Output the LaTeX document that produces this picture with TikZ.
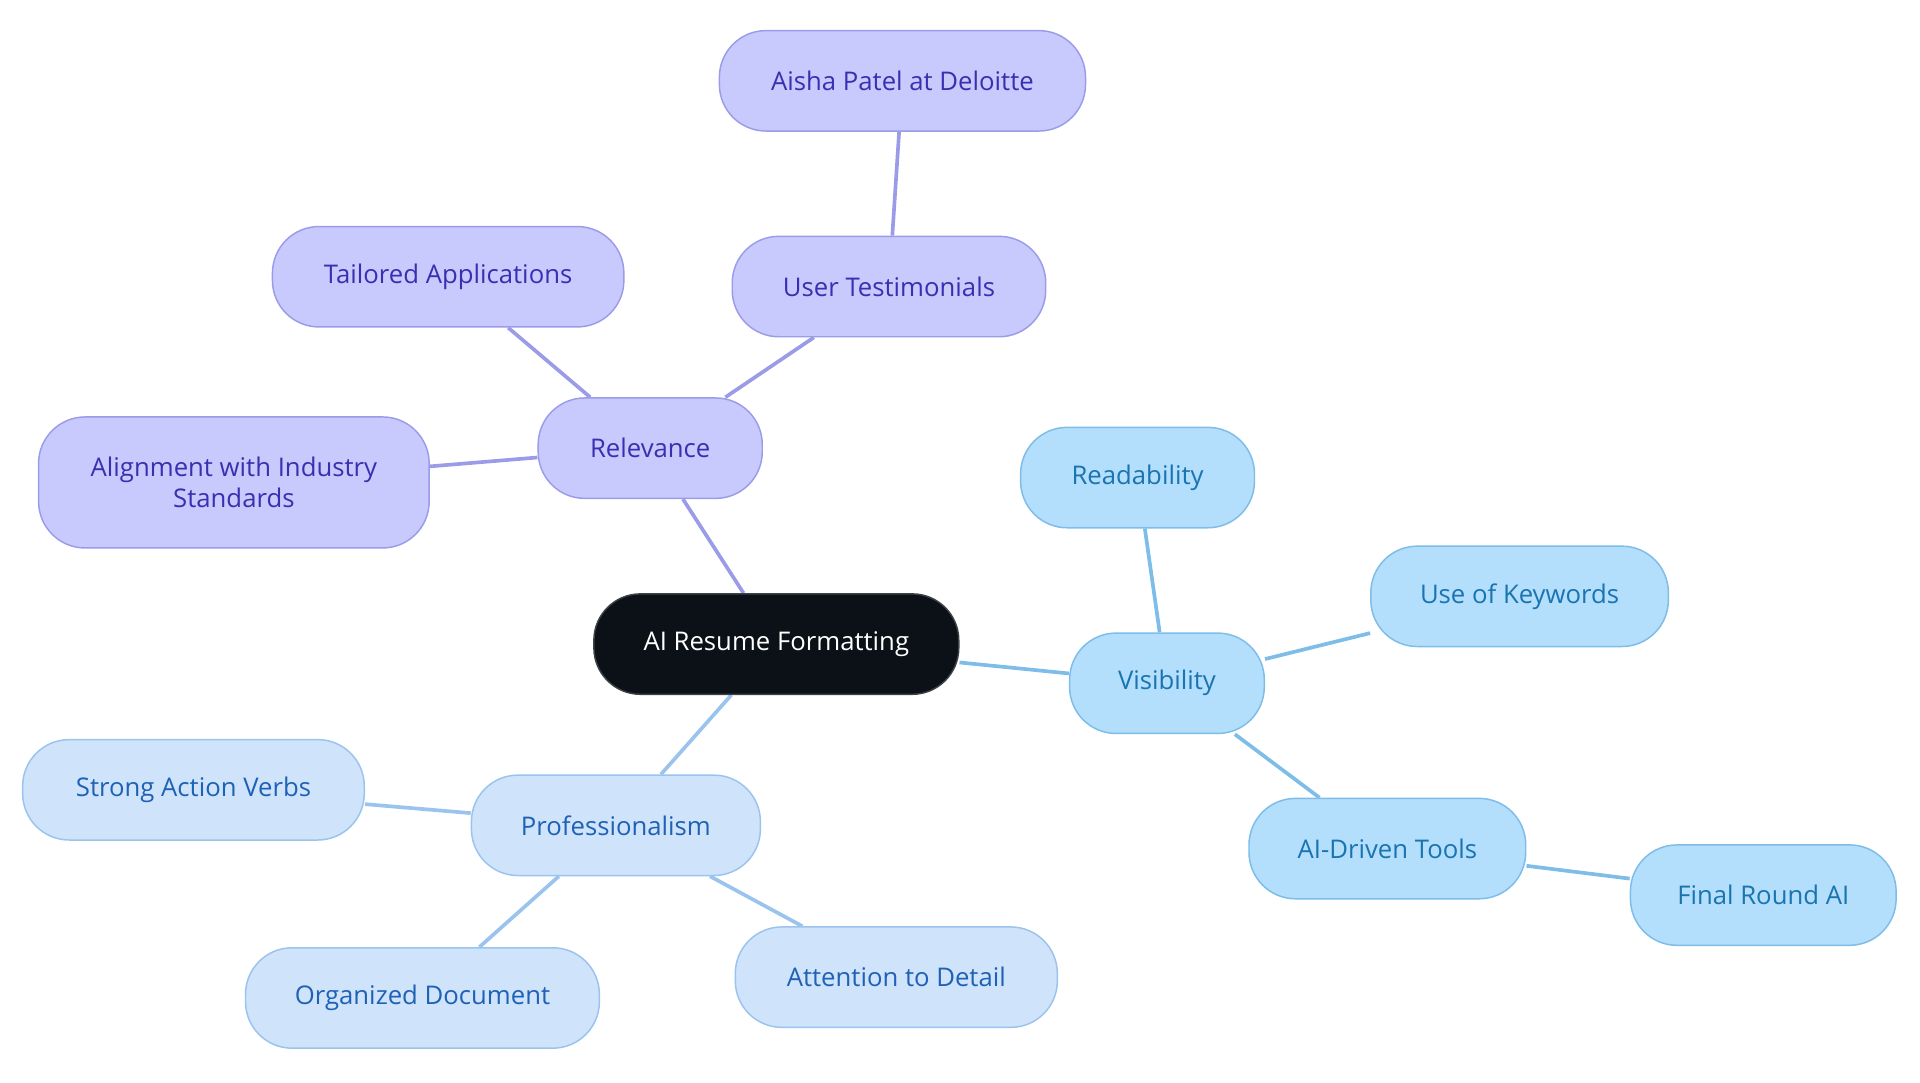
\documentclass[tikz,border=0pt]{standalone}
\usepackage{fontspec}
\setmainfont{Open Sans}
\usetikzlibrary{backgrounds}
\definecolor{pf}{HTML}{C8C9FD}\definecolor{pd}{HTML}{9B9CE8}\definecolor{pt}{HTML}{3A2FB0}
\definecolor{vf}{HTML}{B3DEFC}\definecolor{vd}{HTML}{7DBDE8}\definecolor{vt}{HTML}{1A74B0}
\definecolor{rf}{HTML}{CFE3FB}\definecolor{rd}{HTML}{9AC3EE}\definecolor{rt}{HTML}{1F62B5}
\definecolor{cf}{HTML}{0B1117}
\begin{document}
\begin{tikzpicture}[x=1pt,y=-1pt,
  box/.style={rectangle,rounded corners=38pt,minimum height=82pt,line width=1.2pt,align=center,font=\fontsize{21}{25}\selectfont,inner sep=0pt},
  pbox/.style={box,fill=pf,draw=pd,text=pt},
  vbox/.style={box,fill=vf,draw=vd,text=vt},
  rbox/.style={box,fill=rf,draw=rd,text=rt},
  pe/.style={draw=pd,line width=3pt},
  ve/.style={draw=vd,line width=3pt},
  re/.style={draw=rd,line width=3pt}]
\useasboundingbox (0,0) rectangle (1568,884);
\node[box,fill=cf,draw=cf!80!white,text=white,minimum width=298pt] (c) at (634,526) {AI Resume Formatting};
\node[pbox,minimum width=183pt] (rel) at (531,366) {Relevance};
\node[pbox,minimum width=256pt] (ut) at (726,234) {User Testimonials};
\node[pbox,minimum width=299pt] (ap) at (737,66) {Aisha Patel at Deloitte};
\node[pbox,minimum width=287pt] (ta) at (366,226) {Tailored Applications};
\node[pbox,minimum width=319pt,minimum height=107pt] (al) at (191,394) {Alignment with Industry\\Standards};
\node[vbox,minimum width=159pt] (vis) at (953,558) {Visibility};
\node[vbox,minimum width=191pt] (rd) at (929,390) {Readability};
\node[vbox,minimum width=243pt] (uk) at (1241,487) {Use of Keywords};
\node[vbox,minimum width=226pt] (adt) at (1133,693) {AI-Driven Tools};
\node[vbox,minimum width=217pt] (fr) at (1440,731) {Final Round AI};
\node[rbox,minimum width=236pt] (pro) at (503,674) {Professionalism};
\node[rbox,minimum width=279pt] (sv) at (158,645) {Strong Action Verbs};
\node[rbox,minimum width=289pt] (od) at (345,815) {Organized Document};
\node[rbox,minimum width=263pt] (atd) at (732,798) {Attention to Detail};
\begin{scope}[on background layer]
\path[pe] (c)--(rel) (rel)--(ut) (ut)--(ap) (rel)--(ta) (rel)--(al);
\path[ve] (c)--(vis) (vis)--(rd) (vis)--(uk) (vis)--(adt) (adt)--(fr);
\path[re] (c)--(pro) (pro)--(sv) (pro)--(od) (pro)--(atd);
\end{scope}
\end{tikzpicture}
\end{document}
